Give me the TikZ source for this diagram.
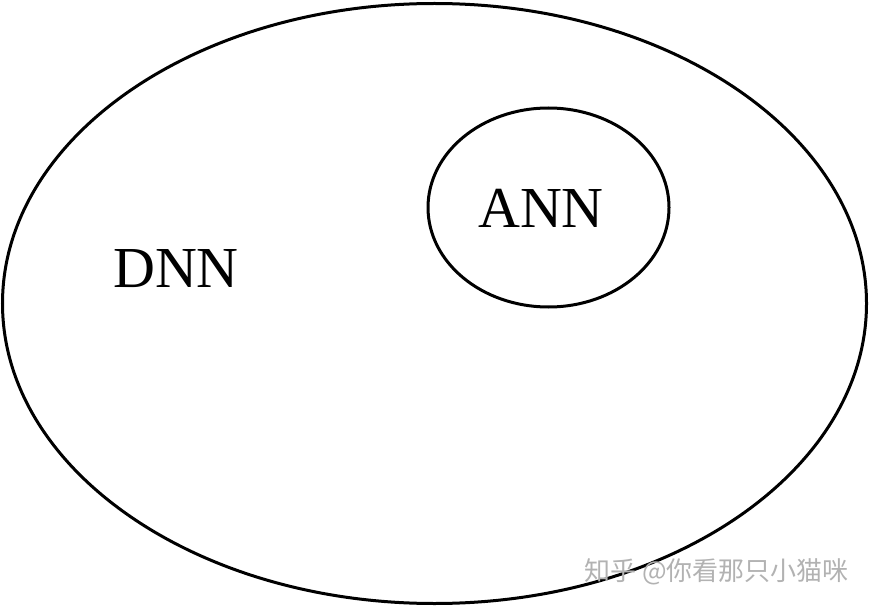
\documentclass[tikz,border=0pt]{standalone}
\usepackage{fontspec}
\setmainfont{Liberation Serif}
\newfontfamily\cjk{Noto Sans CJK SC}
\usetikzlibrary{shapes.geometric}

\begin{document}
\begin{tikzpicture}[x=1pt, y=1pt,
    setline/.style={ellipse, draw, line width=3pt, inner sep=0pt},
    setname/.style={anchor=base, font=\fontsize{58}{70}\selectfont}]
    \useasboundingbox (0,0) rectangle (869,606);

    % outer set (DNN)
    \node[setline, minimum width=864pt, minimum height=600pt] (dnnset) at (434.5,302.5) {};
    \node[setname] (dnn) at (176,319) {DNN};

    % inner set (ANN)
    \node[setline, minimum width=241pt, minimum height=199pt] (annset) at (548.5,398.5) {};
    \node[setname] (ann) at (541,378) {ANN};

    % watermark
    \node[anchor=base, text=black!30, font=\cjk\fontsize{26}{31}\selectfont] (mark) at (716.5,26) {知乎 @你看那只小猫咪};
\end{tikzpicture}
\end{document}
